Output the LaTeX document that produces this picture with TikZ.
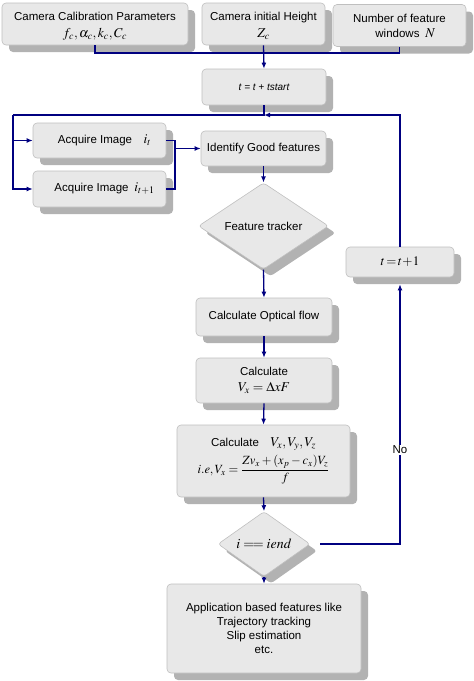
\documentclass[tikz,border=0pt]{standalone}
\usepackage{mathptmx}
\usepackage{fontspec}
\setmainfont{Liberation Sans}
\usetikzlibrary{shapes.geometric,shadows,arrows.meta}
\definecolor{navy}{RGB}{0,0,128}
\newcommand{\bm}[1]{{\fontsize{13.5}{15}\selectfont$#1$}}
\begin{document}
\begin{tikzpicture}[x=1pt,y=-1pt,
  box/.style={draw=black!25, fill=black!9, rounded corners=4pt, line width=0.6pt,
    inner sep=2pt, align=center, font=\fontsize{11.5}{14}\selectfont,
    drop shadow={shadow xshift=7pt,shadow yshift=-7pt,fill=black!30,opacity=1}},
  dia/.style={box, shape=diamond, rounded corners=3pt, inner sep=0pt},
  link/.style={draw=navy, line width=1.3pt},
  arr/.style={link, -{Latex[length=6pt,width=5pt]}}
]
\useasboundingbox (0,0) rectangle (474,681);

% top inputs
\node[box, minimum width=186pt, minimum height=42pt] (cal) at (95,24)
  {\rule{0pt}{12pt}Camera Calibration Parameters\\[3pt] \bm{f_c,\alpha_c,k_c,C_c}};
\node[box, minimum width=123pt, minimum height=42pt] (hgt) at (263.5,24)
  {\rule{0pt}{12pt}Camera initial Height\\[3pt] \bm{Z_c}};
\node[box, minimum width=133pt, minimum height=42pt] (nfw) at (399.5,25.5)
  {Number of feature\\[1pt] \quad windows\enspace\bm{N}};

\node[box, minimum width=124pt, minimum height=36pt, font=\fontsize{10}{12}\selectfont\itshape] (tst) at (264,87)
  {t = t + tstart};

\node[box, minimum width=133pt, minimum height=35pt] (acq1) at (99.5,140.5)
  {\hspace*{10pt}Acquire Image\quad\bm{i_t}};
\node[box, minimum width=133pt, minimum height=36pt] (acq2) at (99.5,189)
  {\hspace*{10pt}Acquire Image\enspace\bm{i_{t+1}}};

\node[box, minimum width=125pt, minimum height=35pt] (idg) at (263.5,148.5)
  {Identify Good features};

\node[dia, minimum width=130pt, minimum height=68pt] (ftr) at (263.5,226)
  {Feature tracker};

\node[box, minimum width=108pt, minimum height=30pt, font=\fontsize{13}{15}\selectfont] (tpl) at (400,262)
  {$t\!=\!t\!+\!1$};

\node[box, minimum width=136pt, minimum height=38pt] (opt) at (264,317)
  {Calculate Optical flow};

\node[box, minimum width=136pt, minimum height=45pt] (cvx) at (264,380.5)
  {Calculate\\[2pt] \bm{V_x=\Delta xF}};

\node[box, minimum width=173pt, minimum height=72pt] (cal3) at (263.5,461)
  {Calculate\quad\bm{V_x,V_y,V_z}\\[4pt]
   {\fontsize{12.5}{15}\selectfont$i.e,V_x=\displaystyle\frac{Zv_x+(x_p-c_x)V_z}{f}$}};

\node[dia, minimum width=92pt, minimum height=48pt, font=\fontsize{14}{16}\selectfont] (iend) at (264,544)
  {$i\mathrel{=\!=}iend$};

\node[box, minimum width=194pt, minimum height=89pt] (app) at (264,628.5)
  {Application based features like\\ Trajectory tracking\\ Slip estimation\\ etc.};

% connectors
\coordinate (jt) at (0,53);
\coordinate (jl) at (13,115);
\coordinate (br) at (175,0);

\draw[link] (cal.south) -- (cal.south |- jt) -| (nfw.south);
\draw[arr] (hgt.south) -- (tst.north);
\draw[link] (tst.south) |- (jl);
\draw[arr] (jl) |- (acq2.west);
\draw[arr] (jl |- acq1.west) -- (acq1.west);
\draw[link] (acq1.east) -- (br |- acq1.east) -- (br |- acq2.east) -- (acq2.east);
\draw[arr] (br |- idg.west) -- (idg.west);
\draw[arr] (idg.south) -- (ftr.north);
\draw[arr] (ftr.south) -- (opt.north);
\draw[arr] (opt.south) -- (cvx.north);
\draw[arr] (cvx.south) -- (cal3.north);
\draw[arr] (cal3.south) -- (iend.north);
\draw[arr] (iend.south) -- (app.north);
\draw[arr] ([xshift=10pt]iend.east) -| ([yshift=-7pt]tpl.south);
\draw[arr] (tpl.north) |- (tst.south |- jl);
\node[fill=white, inner sep=1pt, font=\fontsize{11.5}{14}\selectfont] (no) at (400,450) {No};
\end{tikzpicture}
\end{document}
